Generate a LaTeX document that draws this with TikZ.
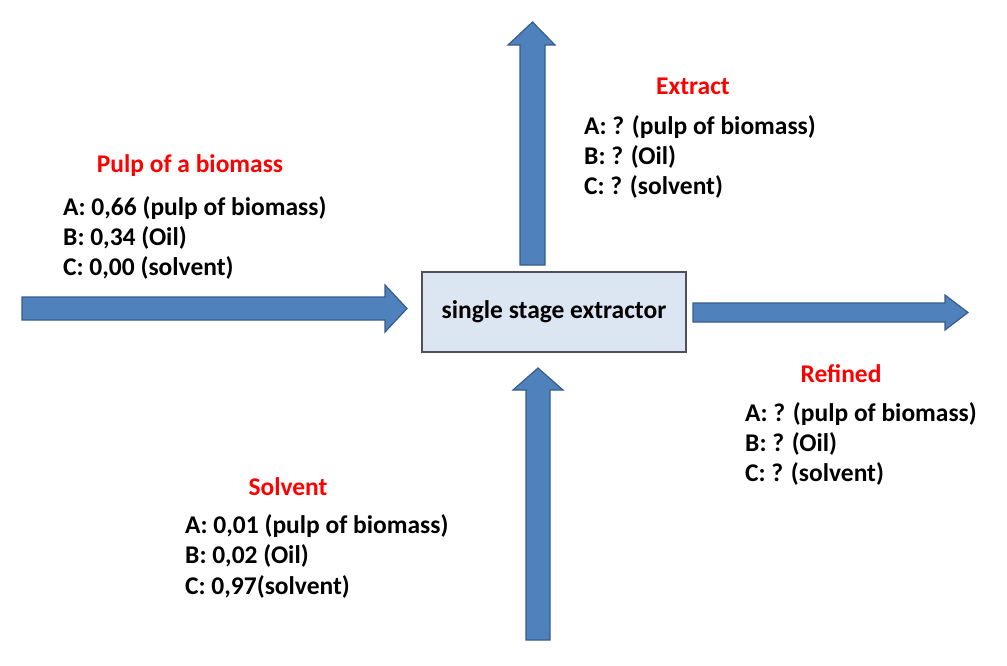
\documentclass[tikz,border=0pt]{standalone}
\usepackage{fontspec}
\setmainfont{Carlito}
\begin{document}
\begin{tikzpicture}[x=1pt,y=-1pt,
  arr/.style={fill={rgb,255:red,79;green,129;blue,189},draw={rgb,255:red,56;green,93;blue,138},line width=1.2pt},
  lbl/.style={font=\fontsize{25.5}{30}\selectfont\bfseries,anchor=west,inner sep=0pt},
  ttl/.style={font=\fontsize{25.5}{30}\selectfont\bfseries,text=red,inner sep=0pt}]
\useasboundingbox (0,0) rectangle (1007,665);
% arrows
\draw[arr] (22,297) -- (385,297) -- (385,285) -- (407,308.5) -- (385,332) -- (385,320) -- (22,320) -- cycle;
\draw[arr] (520,265) -- (520,45) -- (508,45) -- (532.5,22) -- (555,45) -- (545,45) -- (545,265) -- cycle;
\draw[arr] (693,303) -- (945,303) -- (945,295) -- (968,312.5) -- (945,330) -- (945,322) -- (693,322) -- cycle;
\draw[arr] (526,640) -- (526,390) -- (513,390) -- (538,368) -- (563,390) -- (550,390) -- (550,640) -- cycle;
% box
\node[draw={rgb,255:red,80;green,80;blue,90},line width=1.2pt,fill={rgb,255:red,220;green,230;blue,242},minimum width=264pt,minimum height=80pt,font=\fontsize{25.5}{30}\selectfont\bfseries] (box) at (554,312) {single stage extractor};
% texts
\node[ttl] (t1) at (190,166) {Pulp of a biomass};
\node[lbl] (a1) at (63,208) {A: 0,66 (pulp of biomass)};
\node[lbl] (b1) at (63,238) {B: 0,34 (Oil)};
\node[lbl] (c1) at (63,268) {C: 0,00 (solvent)};
\node[ttl] (t2) at (693,86) {Extract};
\node[lbl] (a2) at (584,127) {A: ? (pulp of biomass)};
\node[lbl] (b2) at (584,157) {B: ? (Oil)};
\node[lbl] (c2) at (584,187) {C: ? (solvent)};
\node[ttl] (t3) at (841,374) {Refined};
\node[lbl] (a3) at (745,414) {A: ? (pulp of biomass)};
\node[lbl] (b3) at (745,444) {B: ? (Oil)};
\node[lbl] (c3) at (745,474) {C: ? (solvent)};
\node[ttl] (t4) at (288,487) {Solvent};
\node[lbl] (a4) at (185,526) {A: 0,01 (pulp of biomass)};
\node[lbl] (b4) at (185,556) {B: 0,02 (Oil)};
\node[lbl] (c4) at (185,587) {C: 0,97(solvent)};
\end{tikzpicture}
\end{document}
